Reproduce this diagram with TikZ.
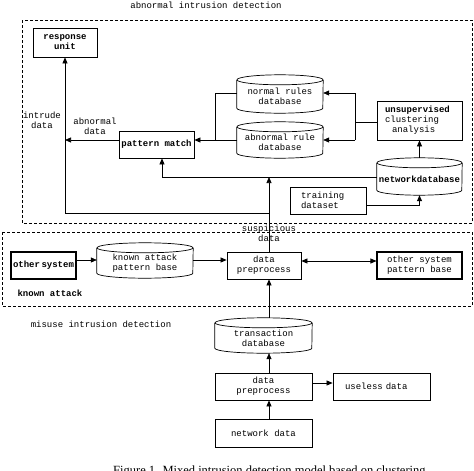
\documentclass[tikz,border=0pt]{standalone}
\usepackage{fontspec}
\setmainfont{Liberation Serif}
\setmonofont{Liberation Mono}
\usetikzlibrary{arrows.meta,calc}
\newcommand\dbcyl[2]{%
  \draw[line width=0.7pt] (#1.north) ellipse[x radius=#2pt, y radius=5pt];
  \draw[line width=0.7pt] (#1.north west) -- ([yshift=5pt]#1.south west)
    arc[start angle=180, end angle=360, x radius=#2pt, y radius=5pt] -- (#1.north east);
}
\tikzset{
  txt/.style={font=\ttfamily\fontsize{9}{10}\selectfont},
  lbl/.style={txt, align=center, inner sep=0pt},
  box/.style={txt, draw, line width=0.8pt, inner sep=1pt, align=center},
  thickbox/.style={box, line width=1.1pt},
  db/.style={txt, inner sep=0pt, align=center},
  bold/.style={font=\ttfamily\bfseries\fontsize{9}{10}\selectfont},
  arr/.style={-{Triangle[length=6pt,width=5pt]}, line width=0.7pt},
  dbl/.style={{Triangle[length=6pt,width=5pt]}-{Triangle[length=6pt,width=5pt]}, line width=0.7pt},
  ln/.style={line width=0.7pt},
  zone/.style={dash pattern=on 3pt off 2pt, line width=0.8pt},
}
\begin{document}
\begin{tikzpicture}[x=1pt,y=1pt]
\useasboundingbox (0,0) rectangle (474,-471);

% zones
\draw[zone] (22,-20) rectangle (472,-223);
\draw[zone] (2,-232) rectangle (472,-306);

% labels
\node[lbl] (title) at (206,-5) {abnormal intrusion detection};
\node[lbl] (intr) at (42,-120) {intrude\\data};
\node[lbl] (abd) at (95,-126.5) {abnormal\\data};
\node[lbl] (susp) at (269,-233) {suspicious\\data};
\node[lbl, bold] (kat) at (50,-293) {known attack};
\node[lbl] (mis) at (101,-324) {misuse intrusion detection};

% upper nodes
\node[box, bold, minimum width=64pt, minimum height=29pt] (ru) at (65,-42.5) {response\\unit};
\node[box, bold, minimum width=75pt, minimum height=27pt] (pm) at (156.5,-144.5) {pattern match};
\node[db, minimum width=86pt, minimum height=33pt] (nr) at (280,-96.5) {normal rules\\database};
\node[db, minimum width=86pt, minimum height=31pt] (ar) at (280,-142.5) {abnormal rule\\database};
\node[box, minimum width=85pt, minimum height=39pt, text width=69pt, align=left] (uc) at (419.5,-120.5)
  {\textbf{unsupervised}\\clustering\\\hspace*{7pt}analysis};
\node[db, bold, minimum width=85pt, minimum height=32pt] (nd) at (419.5,-179) {networkdatabase};
\node[box, minimum width=76pt, minimum height=27pt, text width=54pt, align=left] (td) at (328,-200.5) {training\\dataset};

\dbcyl{nr}{43}
\dbcyl{ar}{43}
\dbcyl{nd}{42.5}

% lower nodes
\node[thickbox, bold, minimum width=65pt, minimum height=27pt] (os) at (43.5,-265.5) {other\hspace{1.5pt}system};
\node[db, minimum width=96pt, minimum height=30pt] (ka) at (145,-263) {known attack\\pattern base};
\node[box, minimum width=74pt, minimum height=27pt] (dp1) at (264,-265.5) {data\\preprocess};
\node[thickbox, minimum width=85pt, minimum height=27pt] (osp) at (419.5,-265.5) {other system\\pattern base};
\node[db, minimum width=97pt, minimum height=30pt] (tdb) at (263.5,-338) {transaction\\database};
\node[box, minimum width=97pt, minimum height=27pt] (dp2) at (263.5,-386.5) {data\\preprocess};
\node[box, minimum width=97pt, minimum height=27pt, text width=73pt, align=left] (ud) at (381.5,-386.5) {useless data};
\node[box, minimum width=97pt, minimum height=28pt] (nwd) at (263.5,-433) {network data};

\dbcyl{ka}{48}
\dbcyl{tdb}{48.5}

% caption (cut by the page edge)
\node[font=\rmfamily\fontsize{12.5}{14}\selectfont, anchor=base west, inner sep=0pt] (cap) at (113,-474)
  {Figure 1. Mixed intrusion detection model based on clustering};

% coordinates
\coordinate (vx) at (269,-213);
\coordinate (hl) at (65,-213);
\coordinate (top) at (269,-177);
\coordinate (pmIn) at (65,-140);
\coordinate (pmB) at (162,-177);
\coordinate (lx) at (215,-93);
\coordinate (rx) at (355,-122);
\coordinate (tdbTop) at ([yshift=5pt]tdb.north);
\coordinate (ndTop) at ([yshift=5pt]nd.north);

% connectors upper
\draw[arr] ([yshift=4.5pt]pm.west) -- (pmIn);
\draw[arr] (vx) -- (hl) -- (ru.south);
\draw[arr] (dp1.north -| vx) -- (top);
\draw[ln] (nd.west |- top) -- (pmB);
\draw[arr] (pmB) -- (pmB |- pm.south);
\draw[ln] ([yshift=3.5pt]nr.west) -- (lx) -- (lx |- pmIn);
\draw[ln] ([yshift=2.5pt]ar.west) -- (lx |- pmIn);
\draw[arr] (lx |- pmIn) -- ([yshift=4.5pt]pm.east);
\draw[ln] ([yshift=-1.5pt]uc.west) -- (rx);
\draw[ln] (rx |- lx) -- (rx |- pmIn);
\draw[arr] (rx |- lx) -- ([yshift=3.5pt]nr.east);
\draw[arr] (rx |- pmIn) -- ([yshift=2.5pt]ar.east);
\draw[arr] (ndTop) -- (uc.south);
\draw[arr] ([yshift=-4.5pt]td.east) -| (nd.south);

% connectors lower
\draw[arr] ([yshift=5.5pt]os.east) -- ([yshift=3pt]ka.west);
\draw[arr] ([yshift=3pt]ka.east) -- ([yshift=5.5pt]dp1.west);
\draw[dbl] ([yshift=4.5pt]dp1.east) -- ([yshift=4.5pt]osp.west);
\draw[arr] (tdbTop -| vx) -- (dp1.south -| vx);
\draw[arr] (dp2.north -| vx) -- (tdb.south -| vx);
\draw[arr] ([yshift=3.5pt]dp2.east) -- ([yshift=3.5pt]ud.west);
\draw[arr] (nwd.north -| vx) -- (dp2.south -| vx);
\end{tikzpicture}
\end{document}
